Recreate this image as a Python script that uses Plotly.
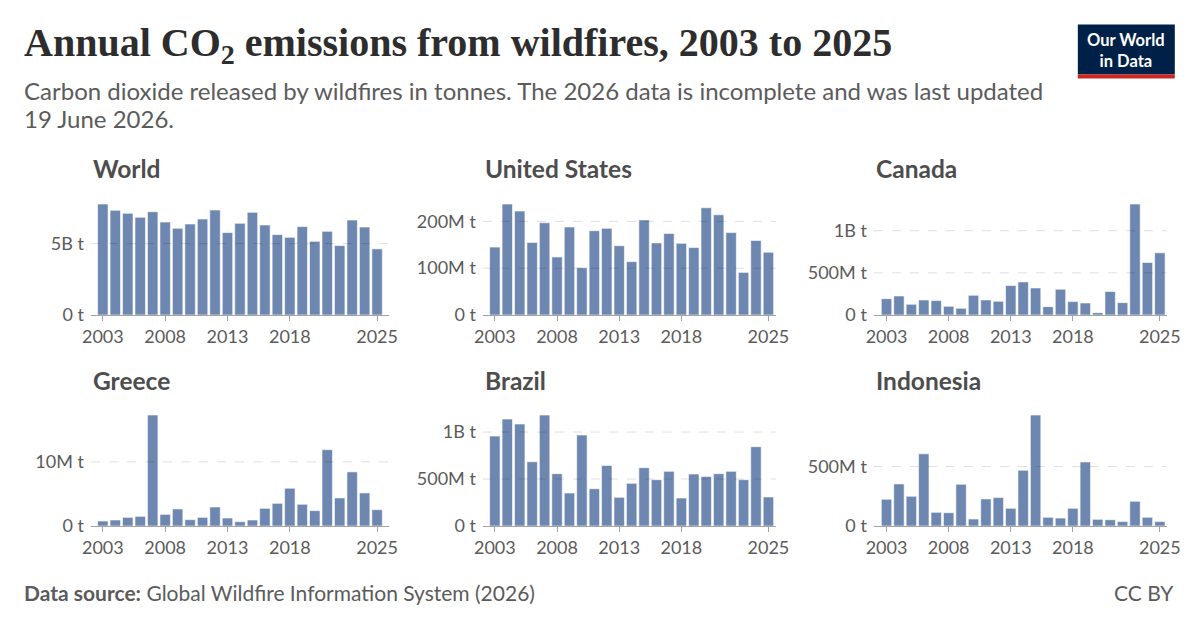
import plotly.graph_objects as go

W, H = 1200, 627

years = list(range(2003, 2026))

world = [7.77e9, 7.33e9, 7.12e9, 6.84e9, 7.23e9, 6.51e9, 6.07e9, 6.37e9, 6.72e9, 7.35e9, 5.77e9, 6.42e9,
         7.19e9, 6.30e9, 5.63e9, 5.44e9, 6.19e9, 5.16e9, 5.86e9, 4.86e9, 6.65e9, 6.16e9, 4.63e9]
united_states = [145e6, 237e6, 222e6, 155e6, 197e6, 124e6, 188e6, 101e6, 180e6, 185e6, 148e6, 114e6,
                 203e6, 154e6, 174e6, 153e6, 144e6, 229e6, 214e6, 176e6, 91e6, 159e6, 134e6]
canada = [194e6, 226e6, 127e6, 179e6, 171e6, 103e6, 79e6, 234e6, 179e6, 163e6, 349e6, 393e6,
          321e6, 99e6, 306e6, 159e6, 143e6, 28e6, 278e6, 147e6, 1317e6, 623e6, 738e6]
greece = [0.78e6, 0.94e6, 1.35e6, 1.51e6, 17.3e6, 1.82e6, 2.66e6, 0.99e6, 1.35e6, 2.97e6, 1.25e6, 0.68e6,
          0.94e6, 2.76e6, 3.54e6, 5.89e6, 3.39e6, 2.40e6, 11.9e6, 4.38e6, 8.44e6, 5.16e6, 2.55e6]
brazil = [957e6, 1138e6, 1085e6, 684e6, 1181e6, 557e6, 351e6, 968e6, 397e6, 645e6, 305e6, 454e6,
          621e6, 493e6, 582e6, 298e6, 553e6, 528e6, 557e6, 582e6, 493e6, 844e6, 309e6]
indonesia = [225e6, 354e6, 250e6, 607e6, 115e6, 112e6, 351e6, 59e6, 228e6, 239e6, 149e6, 469e6,
             933e6, 73e6, 67e6, 149e6, 539e6, 56e6, 53e6, 37e6, 208e6, 73e6, 37e6]

panel_names = ["World", "United States", "Canada", "Greece", "Brazil", "Indonesia"]
panel_values = [world, united_states, canada, greece, brazil, indonesia]
y_tickvals = [[0, 5e9], [0, 100e6, 200e6], [0, 500e6, 1e9], [0, 10e6], [0, 500e6, 1e9], [0, 500e6]]
y_ticktext = [["0 t", "5B t"], ["0 t", "100M t", "200M t"], ["0 t", "500M t", "1B t"],
              ["0 t", "10M t"], ["0 t", "500M t", "1B t"], ["0 t", "500M t"]]
x_tickvals = [2003, 2008, 2013, 2018, 2025]


# target positions are given in picture pixels; convert to paper fractions
def PX(X):
    return (X - 9) / 0.981 / W


def PY(Y):
    return 1 - (Y + 1) / 0.984 / H


# layout geometry (picture pixels)
col_dom = [(91, 389), (483, 776), (874, 1167)]
col_rng = [(2002.05, 2025.95), (2002.04, 2025.6), (2001.98, 2025.56)]
row_dom = [(203, 314), (414, 525)]
title_y = [167, 379]

BAR = "#6d87b0"
GRAY = "#5b5b5b"
FONT = "Lato"

fig = go.Figure()
layout = dict(
    width=W, height=H, margin=dict(l=0, r=0, t=0, b=0),
    paper_bgcolor="white", plot_bgcolor="white", showlegend=False,
    font=dict(family=FONT, color=GRAY), bargap=0.2,
)
annotations = []
shapes = []

for i, (name, vals) in enumerate(zip(panel_names, panel_values)):
    r, c = divmod(i, 3)
    k = "" if i == 0 else str(i + 1)
    fig.add_trace(go.Bar(x=years, y=vals, xaxis="x" + k, yaxis="y" + k,
                         marker=dict(color=BAR, line=dict(color="rgba(255,255,255,0.6)", width=1)),
                         width=0.84))
    x0, x1 = col_dom[c]
    y0, y1 = row_dom[r]
    layout["xaxis" + k] = dict(
        domain=[PX(x0), PX(x1)], range=list(col_rng[c]), anchor="y" + k,
        tickvals=x_tickvals, ticktext=[str(v) for v in x_tickvals],
        showline=True, linecolor="#a3a3a3", linewidth=1,
        ticks="outside", ticklen=5, tickcolor="#a3a3a3",
        showgrid=False, zeroline=False, layer="above traces",
        tickfont=dict(family=FONT, size=18, color=GRAY), fixedrange=True,
    )
    layout["yaxis" + k] = dict(
        domain=[PY(y1), PY(y0)], range=[0, max(vals)], anchor="x" + k,
        tickvals=y_tickvals[i], ticktext=y_ticktext[i],
        showgrid=False, zeroline=False, showline=False, ticks="", ticklabelstandoff=6,
        tickfont=dict(family=FONT, size=18, color=GRAY), fixedrange=True,
    )
    # dashed gridlines drawn over the bars, at the axis tick values
    for tv in y_tickvals[i][1:]:
        shapes.append(dict(type="line", xref="x" + k + " domain", yref="y" + k,
                           x0=0, x1=1, y0=tv, y1=tv, layer="above",
                           line=dict(color="rgba(0,0,0,0.13)", width=1, dash="dash")))
    annotations.append(dict(
        x=PX(x0), y=PY(title_y[r]), xref="paper", yref="paper",
        xanchor="left", yanchor="middle", showarrow=False,
        text="<b>" + name + "</b>", font=dict(family=FONT, size=24.5, color="#4d4d4d"),
    ))

# Title and subtitle
annotations.append(dict(
    x=PX(22), y=PY(43.5), xref="paper", yref="paper", xanchor="left", yanchor="middle",
    showarrow=False, text="<b>Annual CO<sub>2</sub> emissions from wildfires, 2003 to 2025</b>",
    font=dict(family="Liberation Serif", size=40, color="#2d2d2d"),
))
annotations.append(dict(
    x=PX(22), y=PY(89), xref="paper", yref="paper", xanchor="left", yanchor="middle",
    showarrow=False,
    text="Carbon dioxide released by wildfires in tonnes. The 2026 data is incomplete and was last updated",
    font=dict(family=FONT, size=24, color=GRAY),
))
annotations.append(dict(
    x=PX(22), y=PY(117), xref="paper", yref="paper", xanchor="left", yanchor="middle",
    showarrow=False, text="19 June 2026.", font=dict(family=FONT, size=24, color=GRAY),
))
# Footer
annotations.append(dict(
    x=PX(22), y=PY(591), xref="paper", yref="paper", xanchor="left", yanchor="middle",
    showarrow=False, text="<b>Data source:</b> Global Wildfire Information System (2026)",
    font=dict(family=FONT, size=21, color=GRAY),
))
annotations.append(dict(
    x=PX(1176), y=PY(591), xref="paper", yref="paper", xanchor="right", yanchor="middle",
    showarrow=False, text="CC BY", font=dict(family=FONT, size=21, color=GRAY),
))
# Logo
shapes.append(dict(type="rect", xref="paper", yref="paper", x0=PX(1078), x1=PX(1175),
                   y0=PY(73.5), y1=PY(23.5), fillcolor="#002147", line=dict(width=0), layer="above"))
shapes.append(dict(type="rect", xref="paper", yref="paper", x0=PX(1078), x1=PX(1175),
                   y0=PY(77.5), y1=PY(73.5), fillcolor="#ce261e", line=dict(width=0), layer="above"))
annotations.append(dict(
    x=PX(1126.5), y=PY(49), xref="paper", yref="paper", xanchor="center", yanchor="middle",
    showarrow=False, text="<b>Our World<br>in Data</b>",
    font=dict(family=FONT, size=16.5, color="white"),
))

layout["annotations"] = annotations
layout["shapes"] = shapes
fig.update_layout(**layout)
fig.write_html("out.html")
